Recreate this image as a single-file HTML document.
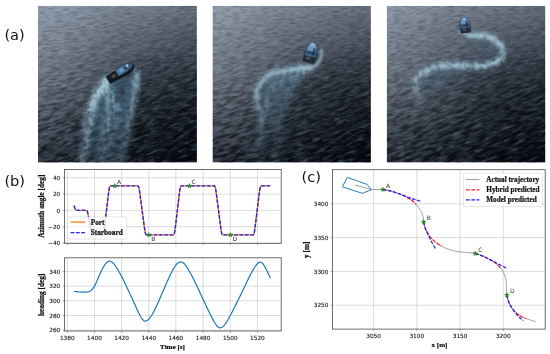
<!DOCTYPE html>
<html><head><meta charset="utf-8"><title>Figure</title>
<style>html,body{margin:0;padding:0;background:#fff}svg{display:block}</style></head>
<body>
<svg width="550" height="354" viewBox="0 0 550 354">
<defs>
<filter id="rip" x="0" y="0" width="100%" height="100%" color-interpolation-filters="sRGB">
  <feTurbulence type="fractalNoise" baseFrequency="0.13 0.6" numOctaves="2" seed="7"/>
  <feColorMatrix type="matrix" values="0 0 0 0 0.78  0 0 0 0 0.86  0 0 0 0 1  2.6 0 0 0 -1.1"/>
</filter>
<filter id="ripd" x="0" y="0" width="100%" height="100%" color-interpolation-filters="sRGB">
  <feTurbulence type="fractalNoise" baseFrequency="0.13 0.6" numOctaves="2" seed="31"/>
  <feColorMatrix type="matrix" values="0 0 0 0 0  0 0 0 0 0.02  0 0 0 0 0.04  2.6 0 0 0 -1.1"/>
</filter>
<filter id="wav" x="0" y="0" width="100%" height="100%" color-interpolation-filters="sRGB">
  <feTurbulence type="fractalNoise" baseFrequency="0.085 0.34" numOctaves="2" seed="11"/>
  <feColorMatrix type="matrix" values="0 0 0 0 0.45  0 0 0 0 0.53  0 0 0 0 0.62  4 0 0 0 -2.15"/>
</filter>
<filter id="wavd" x="0" y="0" width="100%" height="100%" color-interpolation-filters="sRGB">
  <feTurbulence type="fractalNoise" baseFrequency="0.085 0.34" numOctaves="2" seed="57"/>
  <feColorMatrix type="matrix" values="0 0 0 0 0  0 0 0 0 0.01  0 0 0 0 0.02  4 0 0 0 -1.6"/>
</filter>
<filter id="foam" x="-20%" y="-20%" width="140%" height="140%" color-interpolation-filters="sRGB">
  <feGaussianBlur in="SourceGraphic" stdDeviation="2" result="bl"/>
  <feTurbulence type="fractalNoise" baseFrequency="0.2 0.17" numOctaves="2" seed="3" result="tb"/>
  <feColorMatrix in="tb" type="matrix" values="0 0 0 0 1  0 0 0 0 1  0 0 0 0 1  4 0 0 0 -1.45" result="tx"/>
  <feComposite in="bl" in2="tx" operator="arithmetic" k1="0.9" k2="0.3" k3="0" k4="0"/>
</filter>
<filter id="b0" x="-10%" y="-10%" width="120%" height="120%"><feGaussianBlur stdDeviation="0.45"/></filter>
<filter id="b1" x="-30%" y="-30%" width="160%" height="160%"><feGaussianBlur stdDeviation="0.9"/></filter>
<filter id="b2" x="-30%" y="-30%" width="160%" height="160%"><feGaussianBlur stdDeviation="2.2"/></filter>
<filter id="b4" x="-30%" y="-30%" width="160%" height="160%"><feGaussianBlur stdDeviation="4"/></filter>
<linearGradient id="g0" gradientUnits="userSpaceOnUse" x1="38" y1="5.8" x2="140.5" y2="195.0">
<stop offset="0" stop-color="rgb(142,153,168)"/><stop offset="1" stop-color="rgb(0,7,15)"/></linearGradient>
<radialGradient id="ol0" gradientUnits="userSpaceOnUse" cx="38" cy="66.2" r="87.4"><stop offset="0" stop-color="#aab4c0" stop-opacity="0.26"/><stop offset="1" stop-color="#aab4c0" stop-opacity="0"/></radialGradient>
<radialGradient id="od0" gradientUnits="userSpaceOnUse" cx="165.1" cy="113.9" r="66.7"><stop offset="0" stop-color="#05090e" stop-opacity="0.3"/><stop offset="1" stop-color="#05090e" stop-opacity="0"/></radialGradient>
<linearGradient id="ot0" gradientUnits="userSpaceOnUse" x1="0" y1="5.8" x2="0" y2="61.4"><stop offset="0" stop-color="#aab8cc" stop-opacity="0.16"/><stop offset="1" stop-color="#aab8cc" stop-opacity="0"/></linearGradient>
<clipPath id="c0"><rect x="38" y="5.8" width="158.9" height="156.79999999999998"/></clipPath>
<linearGradient id="na0" gradientUnits="userSpaceOnUse" x1="85.7" y1="5.8" x2="117.5" y2="162.6"><stop offset="0" stop-color="#fff" stop-opacity="0"/><stop offset="0.35" stop-color="#fff" stop-opacity="0.18"/><stop offset="1" stop-color="#fff" stop-opacity="1"/></linearGradient>
<mask id="m0"><rect x="38" y="5.8" width="158.9" height="156.79999999999998" fill="url(#na0)"/></mask>
<linearGradient id="nb0" gradientUnits="userSpaceOnUse" x1="0" y1="5.8" x2="0" y2="162.6"><stop offset="0" stop-color="#fff" stop-opacity="0.45"/><stop offset="0.5" stop-color="#fff" stop-opacity="0.6"/><stop offset="1" stop-color="#fff" stop-opacity="0.3"/></linearGradient>
<mask id="mb0"><rect x="38" y="5.8" width="158.9" height="156.79999999999998" fill="url(#nb0)"/></mask>
<linearGradient id="g1" gradientUnits="userSpaceOnUse" x1="212.5" y1="5.8" x2="314.7" y2="194.5">
<stop offset="0" stop-color="rgb(141,151,165)"/><stop offset="1" stop-color="rgb(0,7,15)"/></linearGradient>
<radialGradient id="ol1" gradientUnits="userSpaceOnUse" cx="212.5" cy="66.0" r="87.1"><stop offset="0" stop-color="#aab4c0" stop-opacity="0.26"/><stop offset="1" stop-color="#aab4c0" stop-opacity="0"/></radialGradient>
<radialGradient id="od1" gradientUnits="userSpaceOnUse" cx="339.2" cy="113.5" r="66.5"><stop offset="0" stop-color="#05090e" stop-opacity="0.3"/><stop offset="1" stop-color="#05090e" stop-opacity="0"/></radialGradient>
<linearGradient id="ot1" gradientUnits="userSpaceOnUse" x1="0" y1="5.8" x2="0" y2="61.2"><stop offset="0" stop-color="#aab8cc" stop-opacity="0.16"/><stop offset="1" stop-color="#aab8cc" stop-opacity="0"/></linearGradient>
<clipPath id="c1"><rect x="212.5" y="5.8" width="158.39999999999998" height="156.79999999999998"/></clipPath>
<linearGradient id="na1" gradientUnits="userSpaceOnUse" x1="260.0" y1="5.8" x2="291.7" y2="162.6"><stop offset="0" stop-color="#fff" stop-opacity="0"/><stop offset="0.35" stop-color="#fff" stop-opacity="0.18"/><stop offset="1" stop-color="#fff" stop-opacity="1"/></linearGradient>
<mask id="m1"><rect x="212.5" y="5.8" width="158.39999999999998" height="156.79999999999998" fill="url(#na1)"/></mask>
<linearGradient id="nb1" gradientUnits="userSpaceOnUse" x1="0" y1="5.8" x2="0" y2="162.6"><stop offset="0" stop-color="#fff" stop-opacity="0.45"/><stop offset="0.5" stop-color="#fff" stop-opacity="0.6"/><stop offset="1" stop-color="#fff" stop-opacity="0.3"/></linearGradient>
<mask id="mb1"><rect x="212.5" y="5.8" width="158.39999999999998" height="156.79999999999998" fill="url(#nb1)"/></mask>
<linearGradient id="g2" gradientUnits="userSpaceOnUse" x1="386.7" y1="5.8" x2="489.1" y2="194.8">
<stop offset="0" stop-color="rgb(133,143,157)"/><stop offset="1" stop-color="rgb(0,7,15)"/></linearGradient>
<radialGradient id="ol2" gradientUnits="userSpaceOnUse" cx="386.7" cy="66.1" r="87.3"><stop offset="0" stop-color="#aab4c0" stop-opacity="0.26"/><stop offset="1" stop-color="#aab4c0" stop-opacity="0"/></radialGradient>
<radialGradient id="od2" gradientUnits="userSpaceOnUse" cx="513.7" cy="113.7" r="66.7"><stop offset="0" stop-color="#05090e" stop-opacity="0.3"/><stop offset="1" stop-color="#05090e" stop-opacity="0"/></radialGradient>
<linearGradient id="ot2" gradientUnits="userSpaceOnUse" x1="0" y1="5.8" x2="0" y2="61.3"><stop offset="0" stop-color="#aab8cc" stop-opacity="0.16"/><stop offset="1" stop-color="#aab8cc" stop-opacity="0"/></linearGradient>
<clipPath id="c2"><rect x="386.7" y="5.8" width="158.7" height="156.79999999999998"/></clipPath>
<linearGradient id="na2" gradientUnits="userSpaceOnUse" x1="434.3" y1="5.8" x2="466.0" y2="162.6"><stop offset="0" stop-color="#fff" stop-opacity="0"/><stop offset="0.35" stop-color="#fff" stop-opacity="0.18"/><stop offset="1" stop-color="#fff" stop-opacity="1"/></linearGradient>
<mask id="m2"><rect x="386.7" y="5.8" width="158.7" height="156.79999999999998" fill="url(#na2)"/></mask>
<linearGradient id="nb2" gradientUnits="userSpaceOnUse" x1="0" y1="5.8" x2="0" y2="162.6"><stop offset="0" stop-color="#fff" stop-opacity="0.45"/><stop offset="0.5" stop-color="#fff" stop-opacity="0.6"/><stop offset="1" stop-color="#fff" stop-opacity="0.3"/></linearGradient>
<mask id="mb2"><rect x="386.7" y="5.8" width="158.7" height="156.79999999999998" fill="url(#nb2)"/></mask>
</defs>
<rect width="550" height="354" fill="#fff"/>
<g clip-path="url(#c0)">
<rect x="38" y="5.8" width="158.9" height="156.79999999999998" fill="url(#g0)"/>
<rect x="38" y="5.8" width="158.9" height="156.79999999999998" fill="url(#ol0)"/>
<rect x="38" y="5.8" width="158.9" height="156.79999999999998" fill="url(#ot0)"/>
<rect x="38" y="5.8" width="158.9" height="156.79999999999998" fill="url(#od0)"/>
<g mask="url(#mb0)"><g transform="rotate(-5 117.45 84.2)"><rect x="-22" y="-54.2" width="278.9" height="276.79999999999995" filter="url(#rip)" opacity="0.28"/><rect x="-22" y="-54.2" width="278.9" height="276.79999999999995" filter="url(#ripd)" opacity="0.45"/></g></g>
<g mask="url(#m0)"><g transform="rotate(-20 117.45 84.2)"><rect x="-22" y="-54.2" width="278.9" height="276.79999999999995" filter="url(#wavd)" opacity="0.75"/><rect x="-22" y="-54.2" width="278.9" height="276.79999999999995" filter="url(#wav)" opacity="0.42"/></g></g>
<linearGradient id="wf0" gradientUnits="userSpaceOnUse" x1="0" y1="80" x2="0" y2="163"><stop offset="0" stop-color="#fff" stop-opacity="1"/><stop offset="0.3" stop-color="#fff" stop-opacity="0.8"/><stop offset="0.6" stop-color="#fff" stop-opacity="0.55"/><stop offset="1" stop-color="#fff" stop-opacity="0.35"/></linearGradient><mask id="wm0"><rect x="38" y="5" width="160" height="159" fill="url(#wf0)"/></mask>
<g fill="none" stroke-linecap="round" stroke-linejoin="round" mask="url(#wm0)">
<path d="M108,80 C98,90 90,108 86,130 L78,166 L122,166 C127,140 134,110 138,72 L126,80 Z" fill="#3f6b86" stroke="none" opacity="0.62" filter="url(#b4)"/>
<path d="M112,88 C106,100 100,118 97,140 L94,166 L114,166 C118,140 124,112 128,88 Z" fill="#7aa6bd" stroke="none" opacity="0.5" filter="url(#foam)"/>
<path d="M108,81 C101,87 96,96 93,104 C90,113 88,126 84,150 L81,165" stroke="#7aa6bd" stroke-width="8" opacity="0.45" filter="url(#b2)"/>
<path d="M108,81 C101,87 96,96 93,104 C90,113 88,126 84,150 L81,165" stroke="#a9cbd9" stroke-width="9.5" opacity="0.8" filter="url(#foam)"/>
<path d="M137,72 C136,88 134,100 132,108 C129,122 125,136 120,163" stroke="#7aa6bd" stroke-width="6" opacity="0.25" filter="url(#b2)"/>
<path d="M137,72 C136,88 134,100 132,108 C129,122 125,136 120,163" stroke="#a9cbd9" stroke-width="7" opacity="0.5" filter="url(#foam)"/>
<path d="M105,88 C109,96 111,102 112,110 C112,125 106,140 101,163" stroke="#a9cbd9" stroke-width="8" opacity="0.5" filter="url(#foam)"/>
<path d="M107,82 C101,88 96,97 92.5,110" stroke="#a9cbd9" stroke-width="4" opacity="0.7" filter="url(#b1)"/>
<ellipse cx="121" cy="94" rx="5.5" ry="9" fill="#121c26" opacity="0.5" filter="url(#b2)" stroke="none"/>
</g>
<path d="M104,80 C108,76 114,72 118,71" stroke="#a9cbd9" stroke-width="3" opacity="0.5" fill="none" filter="url(#b1)"/>
<g transform="translate(120.5,71.8) rotate(-30.6) scale(0.9,1.035)" filter="url(#b0)"><path d="M-17,-3.4 L6,-4.4 L13,-3 L17.5,0.4 L14,4.6 L6,6 L-17,5 Z" fill="#0f151b"/><path d="M-5,-4.2 L6,-4.4 L12.5,-3 L16.5,0 L12.5,2.2 L6,3.2 L-5,3 Z" fill="#3a5878"/><path d="M-16,-3 L-5,-3.4 L-5,3 L-16,3.4 Z" fill="#141b22"/><rect x="-11" y="-1.2" width="4" height="2.6" fill="#5a5046"/><rect x="-3.5" y="-3.6" width="10" height="5.6" fill="#4e7499"/><rect x="-1" y="-2.8" width="5" height="3.6" fill="#6f95b8"/><rect x="5" y="-2.4" width="3.2" height="3.2" fill="#2f4a66"/><rect x="8.5" y="-3" width="2.6" height="2.2" fill="#b9cddc"/></g>
</g>
<g clip-path="url(#c1)">
<rect x="212.5" y="5.8" width="158.39999999999998" height="156.79999999999998" fill="url(#g1)"/>
<rect x="212.5" y="5.8" width="158.39999999999998" height="156.79999999999998" fill="url(#ol1)"/>
<rect x="212.5" y="5.8" width="158.39999999999998" height="156.79999999999998" fill="url(#ot1)"/>
<rect x="212.5" y="5.8" width="158.39999999999998" height="156.79999999999998" fill="url(#od1)"/>
<g mask="url(#mb1)"><g transform="rotate(-5 291.7 84.2)"><rect x="152.5" y="-54.2" width="278.4" height="276.79999999999995" filter="url(#rip)" opacity="0.28"/><rect x="152.5" y="-54.2" width="278.4" height="276.79999999999995" filter="url(#ripd)" opacity="0.45"/></g></g>
<g mask="url(#m1)"><g transform="rotate(-20 291.7 84.2)"><rect x="152.5" y="-54.2" width="278.4" height="276.79999999999995" filter="url(#wavd)" opacity="0.75"/><rect x="152.5" y="-54.2" width="278.4" height="276.79999999999995" filter="url(#wav)" opacity="0.42"/></g></g>
<linearGradient id="wf1" gradientUnits="userSpaceOnUse" x1="0" y1="60" x2="0" y2="163"><stop offset="0" stop-color="#fff" stop-opacity="1"/><stop offset="0.45" stop-color="#fff" stop-opacity="0.6"/><stop offset="0.7" stop-color="#fff" stop-opacity="0.3"/><stop offset="1" stop-color="#fff" stop-opacity="0.1"/></linearGradient><mask id="wm1"><rect x="212" y="5" width="160" height="159" fill="url(#wf1)"/></mask>
<g fill="none" stroke-linecap="round" stroke-linejoin="round" mask="url(#wm1)">
<path d="M312,66 C298,78 286,96 284,120 C283,140 282,150 280,166 L248,166 C254,140 262,125 258,108 C252,92 258,78 282,68 Z" fill="#3f6b86" stroke="none" opacity="0.5" filter="url(#b4)"/>
<path d="M312,67.5 C302,68.5 290,68.5 273,73 C266,76 260,82 256.5,91 C255,98 257,106 261,116 C264,128 258,148 252,164" stroke="#7aa6bd" stroke-width="5" opacity="0.35" filter="url(#b2)"/>
<path d="M312,67.5 C302,68.5 290,68.5 273,73 C266,76 260,82 256.5,91 C255,98 257,106 261,116 C264,128 258,148 252,164" stroke="#a9cbd9" stroke-width="6" opacity="0.6" filter="url(#foam)"/>
<path d="M306,73 C294,82 284,95 280,112 C278,130 279,150 276,164" stroke="#a9cbd9" stroke-width="9" opacity="0.22" filter="url(#foam)"/>
<path d="M300,72 C288,76 274,84 268,96 C264,106 268,120 268,135" stroke="#a9cbd9" stroke-width="9" opacity="0.25" filter="url(#foam)"/>
<path d="M310,67.5 C298,68.5 288,69 273,73.5 C266,76.5 260.5,82 257.5,91 C256,97 257,103 259,108" stroke="#a9cbd9" stroke-width="2.6" opacity="0.7" filter="url(#b1)"/>
<path d="M321.5,50 C322,58 319,65 311,68 C306,69.5 302,68 299,66" stroke="#a9cbd9" stroke-width="3.4" opacity="0.6" filter="url(#b1)"/>
</g>
<g transform="translate(311,52.5) rotate(14)" filter="url(#b0)"><path d="M-6.5,1.575 L-5.5249999999999995,-5.775 L-2.275,-10.5 L2.275,-10.5 L5.5249999999999995,-5.775 L6.5,1.575 L6.175,10.5 L-6.175,10.5 Z" fill="#1f2c3a"/><path d="M-5.33,3.675 L-5.2,-5.25 L-1.95,-9.975 L1.95,-9.975 L5.2,-5.25 L5.33,3.675 Z" fill="#4c75a0"/><rect x="-3.90" y="-7.35" width="7.80" height="5.78" fill="#6f96bb"/><rect x="-2.27" y="-9.66" width="4.55" height="3.15" fill="#8fb0cc"/><rect x="-4.55" y="-1.05" width="9.10" height="3.15" fill="#2c435c"/><rect x="1.62" y="-4.73" width="1.95" height="7.35" fill="#1d2a38"/><rect x="-3.25" y="4.73" width="3.90" height="2.62" fill="#5b5348"/></g>
</g>
<g clip-path="url(#c2)">
<rect x="386.7" y="5.8" width="158.7" height="156.79999999999998" fill="url(#g2)"/>
<rect x="386.7" y="5.8" width="158.7" height="156.79999999999998" fill="url(#ol2)"/>
<rect x="386.7" y="5.8" width="158.7" height="156.79999999999998" fill="url(#ot2)"/>
<rect x="386.7" y="5.8" width="158.7" height="156.79999999999998" fill="url(#od2)"/>
<g mask="url(#mb2)"><g transform="rotate(-5 466.04999999999995 84.2)"><rect x="326.7" y="-54.2" width="278.7" height="276.79999999999995" filter="url(#rip)" opacity="0.28"/><rect x="326.7" y="-54.2" width="278.7" height="276.79999999999995" filter="url(#ripd)" opacity="0.45"/></g></g>
<g mask="url(#m2)"><g transform="rotate(-20 466.04999999999995 84.2)"><rect x="326.7" y="-54.2" width="278.7" height="276.79999999999995" filter="url(#wavd)" opacity="0.75"/><rect x="326.7" y="-54.2" width="278.7" height="276.79999999999995" filter="url(#wav)" opacity="0.42"/></g></g>
<linearGradient id="wf2" gradientUnits="userSpaceOnUse" x1="0" y1="70" x2="0" y2="105"><stop offset="0" stop-color="#fff" stop-opacity="1"/><stop offset="1" stop-color="#fff" stop-opacity="0.15"/></linearGradient><mask id="wm2"><rect x="386" y="6" width="162" height="158" fill="url(#wf2)"/></mask>
<g fill="none" stroke-linecap="round" stroke-linejoin="round" mask="url(#wm2)">
<path d="M470,36 C486,36 500,44 500,53 C500,62 470,64 450,64 C430,66 420,72 416,82 C414,90 418,96 421,102 L440,100 C436,90 440,80 456,74 C470,70 486,72 494,62 Z" fill="#3f6b86" stroke="none" opacity="0.3" filter="url(#b4)"/>
<path d="M470,35.5 C478,34 488,35 494,39 C500,43 504,48 503,54 C502,60 496,64 486,65.5 C476,67 464,65 453,65 C444,65 436,66 429,69.5 C422,73 418,76 416,80 C414,85 415,92 421,102" stroke="#7aa6bd" stroke-width="4.5" opacity="0.35" filter="url(#b2)"/>
<path d="M459,31 C462,35 470,35.5 482,37" stroke="#a9cbd9" stroke-width="2.6" opacity="0.6" filter="url(#b1)"/>
<path d="M470,35.5 C478,34 488,35 494,39 C500,43 504,48 503,54 C502,60 496,64 486,65.5 C476,67 464,65 453,65 C444,65 436,66 429,69.5 C422,73 418,76 416,80 C414,85 415,92 421,102" stroke="#a9cbd9" stroke-width="6" opacity="0.7" filter="url(#foam)"/>
<path d="M472,35.5 C478,34 488,35 494,39 C500,43 504,48 503,54 C502,60 496,64 486,65.5 C476,67 464,65 453,65 C444,65 436,66 429,69.5 C422,73 418,76 416,80" stroke="#a9cbd9" stroke-width="2.2" opacity="0.5" filter="url(#b1)"/>
</g>
<g transform="translate(464.8,25) rotate(-8)" filter="url(#b0)"><path d="M-5.5,1.2 L-4.675,-4.4 L-1.9249999999999998,-8.0 L1.9249999999999998,-8.0 L4.675,-4.4 L5.5,1.2 L5.225,8.0 L-5.225,8.0 Z" fill="#1f2c3a"/><path d="M-4.51,2.8 L-4.4,-4.0 L-1.65,-7.6 L1.65,-7.6 L4.4,-4.0 L4.51,2.8 Z" fill="#4c75a0"/><rect x="-3.30" y="-5.60" width="6.60" height="4.40" fill="#6f96bb"/><rect x="-1.92" y="-7.36" width="3.85" height="2.40" fill="#8fb0cc"/><rect x="-3.85" y="-0.80" width="7.70" height="2.40" fill="#2c435c"/><rect x="1.38" y="-3.60" width="1.65" height="5.60" fill="#1d2a38"/><rect x="-2.75" y="3.60" width="3.30" height="2.00" fill="#5b5348"/></g>
</g>
<text x="4.4" y="39.6" font-family='"DejaVu Sans", "Liberation Sans", sans-serif' font-size="14.6" fill="#111">(a)</text>
<text x="4.4" y="186.2" font-family='"DejaVu Sans", "Liberation Sans", sans-serif' font-size="14.6" fill="#111">(b)</text>
<text x="301.5" y="182" font-family='"DejaVu Sans", "Liberation Sans", sans-serif' font-size="14.6" fill="#111">(c)</text>
<g>
<rect x="64.5" y="169.4" width="216.7" height="73.9" fill="#fff"/>
<line x1="67.3" y1="169.4" x2="67.3" y2="243.3" stroke="#b8b8b8" stroke-width="0.5"/>
<line x1="67.3" y1="243.3" x2="67.3" y2="245.10000000000002" stroke="#4a4a4a" stroke-width="0.5"/>
<line x1="94.5" y1="169.4" x2="94.5" y2="243.3" stroke="#b8b8b8" stroke-width="0.5"/>
<line x1="94.5" y1="243.3" x2="94.5" y2="245.10000000000002" stroke="#4a4a4a" stroke-width="0.5"/>
<line x1="121.6" y1="169.4" x2="121.6" y2="243.3" stroke="#b8b8b8" stroke-width="0.5"/>
<line x1="121.6" y1="243.3" x2="121.6" y2="245.10000000000002" stroke="#4a4a4a" stroke-width="0.5"/>
<line x1="148.8" y1="169.4" x2="148.8" y2="243.3" stroke="#b8b8b8" stroke-width="0.5"/>
<line x1="148.8" y1="243.3" x2="148.8" y2="245.10000000000002" stroke="#4a4a4a" stroke-width="0.5"/>
<line x1="175.9" y1="169.4" x2="175.9" y2="243.3" stroke="#b8b8b8" stroke-width="0.5"/>
<line x1="175.9" y1="243.3" x2="175.9" y2="245.10000000000002" stroke="#4a4a4a" stroke-width="0.5"/>
<line x1="203.1" y1="169.4" x2="203.1" y2="243.3" stroke="#b8b8b8" stroke-width="0.5"/>
<line x1="203.1" y1="243.3" x2="203.1" y2="245.10000000000002" stroke="#4a4a4a" stroke-width="0.5"/>
<line x1="230.3" y1="169.4" x2="230.3" y2="243.3" stroke="#b8b8b8" stroke-width="0.5"/>
<line x1="230.3" y1="243.3" x2="230.3" y2="245.10000000000002" stroke="#4a4a4a" stroke-width="0.5"/>
<line x1="257.4" y1="169.4" x2="257.4" y2="243.3" stroke="#b8b8b8" stroke-width="0.5"/>
<line x1="257.4" y1="243.3" x2="257.4" y2="245.10000000000002" stroke="#4a4a4a" stroke-width="0.5"/>
<line x1="64.5" y1="243.1" x2="281.2" y2="243.1" stroke="#b8b8b8" stroke-width="0.5"/>
<line x1="62.7" y1="243.1" x2="64.5" y2="243.1" stroke="#4a4a4a" stroke-width="0.5"/>
<text x="60.3" y="245.3" text-anchor="end" font-family='"DejaVu Sans", "Liberation Sans", sans-serif' font-size="5.8" fill="#1a1a1a" stroke="#1a1a1a" stroke-width="0.12">−40</text>
<line x1="64.5" y1="226.7" x2="281.2" y2="226.7" stroke="#b8b8b8" stroke-width="0.5"/>
<line x1="62.7" y1="226.7" x2="64.5" y2="226.7" stroke="#4a4a4a" stroke-width="0.5"/>
<text x="60.3" y="228.9" text-anchor="end" font-family='"DejaVu Sans", "Liberation Sans", sans-serif' font-size="5.8" fill="#1a1a1a" stroke="#1a1a1a" stroke-width="0.12">−20</text>
<line x1="64.5" y1="210.4" x2="281.2" y2="210.4" stroke="#b8b8b8" stroke-width="0.5"/>
<line x1="62.7" y1="210.4" x2="64.5" y2="210.4" stroke="#4a4a4a" stroke-width="0.5"/>
<text x="60.3" y="212.6" text-anchor="end" font-family='"DejaVu Sans", "Liberation Sans", sans-serif' font-size="5.8" fill="#1a1a1a" stroke="#1a1a1a" stroke-width="0.12">0</text>
<line x1="64.5" y1="194.1" x2="281.2" y2="194.1" stroke="#b8b8b8" stroke-width="0.5"/>
<line x1="62.7" y1="194.1" x2="64.5" y2="194.1" stroke="#4a4a4a" stroke-width="0.5"/>
<text x="60.3" y="196.3" text-anchor="end" font-family='"DejaVu Sans", "Liberation Sans", sans-serif' font-size="5.8" fill="#1a1a1a" stroke="#1a1a1a" stroke-width="0.12">20</text>
<line x1="64.5" y1="177.7" x2="281.2" y2="177.7" stroke="#b8b8b8" stroke-width="0.5"/>
<line x1="62.7" y1="177.7" x2="64.5" y2="177.7" stroke="#4a4a4a" stroke-width="0.5"/>
<text x="60.3" y="179.9" text-anchor="end" font-family='"DejaVu Sans", "Liberation Sans", sans-serif' font-size="5.8" fill="#1a1a1a" stroke="#1a1a1a" stroke-width="0.12">40</text>
<polyline points="74.09,205.58 74.43,206.84 74.77,208.10 75.11,208.88 75.45,209.35 75.79,209.59 76.13,209.90 76.47,210.10 76.81,210.23 77.15,210.32 77.48,210.37 77.82,210.39 78.16,210.40 78.50,210.40 78.84,210.40 79.18,210.40 79.52,210.40 79.86,210.40 80.20,210.40 80.54,210.40 80.88,210.40 81.22,210.40 81.56,210.40 81.90,210.40 82.24,210.40 82.58,210.40 82.92,210.40 83.26,210.40 83.60,210.40 83.94,210.40 84.28,210.40 84.61,210.40 84.95,210.40 85.29,210.40 85.63,210.40 85.97,210.40 86.31,210.42 86.65,210.54 86.99,210.86 87.33,211.53 87.67,212.61 88.01,214.08 88.35,215.81 88.69,217.68 89.03,219.59 89.37,221.50 89.71,223.42 90.05,225.33 90.39,227.24 90.73,229.12 91.06,230.89 91.40,232.42 91.74,233.60 92.08,234.33 92.42,234.72 92.76,234.87 93.10,234.90 93.44,234.90 93.78,234.90 94.12,234.90 94.46,234.90 94.80,234.90 95.14,234.90 95.48,234.90 95.82,234.90 96.16,234.90 96.50,234.90 96.84,234.90 97.18,234.90 97.52,234.90 97.86,234.90 98.19,234.90 98.53,234.90 98.87,234.90 99.21,234.90 99.55,234.90 99.89,234.90 100.23,234.90 100.57,234.90 100.91,234.90 101.25,234.90 101.59,234.90 101.93,234.90 102.27,234.90 102.61,234.83 102.95,234.55 103.29,233.90 103.63,232.65 103.97,230.80 104.31,228.42 104.65,225.75 104.98,222.94 105.32,220.09 105.66,217.24 106.00,214.39 106.34,211.54 106.68,208.69 107.02,205.84 107.36,202.99 107.70,200.14 108.04,197.29 108.38,194.50 108.72,191.86 109.06,189.59 109.40,187.84 109.74,186.74 110.08,186.17 110.42,185.95 110.76,185.90 111.10,185.90 111.44,185.90 111.77,185.90 112.11,185.90 112.45,185.90 112.79,185.90 113.13,185.90 113.47,185.90 113.81,185.90 114.15,185.90 114.49,185.90 114.83,185.90 115.17,185.90 115.51,185.90 115.85,185.90 116.19,185.90 116.53,185.90 116.87,185.90 117.21,185.90 117.55,185.90 117.89,185.90 118.22,185.90 118.56,185.90 118.90,185.90 119.24,185.90 119.58,185.90 119.92,185.90 120.26,185.90 120.60,185.90 120.94,185.90 121.28,185.90 121.62,185.90 121.96,185.90 122.30,185.90 122.64,185.90 122.98,185.90 123.32,185.90 123.66,185.90 124.00,185.90 124.34,185.90 124.68,185.90 125.02,185.90 125.35,185.90 125.69,185.90 126.03,185.90 126.37,185.90 126.71,185.90 127.05,185.90 127.39,185.90 127.73,185.90 128.07,185.90 128.41,185.90 128.75,185.90 129.09,185.90 129.43,185.90 129.77,185.90 130.11,185.90 130.45,185.90 130.79,185.90 131.13,185.90 131.47,185.90 131.81,185.90 132.14,185.90 132.48,185.90 132.82,185.90 133.16,185.90 133.50,185.90 133.84,185.90 134.18,185.90 134.52,185.90 134.86,185.90 135.20,185.90 135.54,185.90 135.88,185.90 136.22,185.90 136.56,185.90 136.90,185.90 137.24,185.90 137.58,185.90 137.92,185.97 138.26,186.22 138.59,186.80 138.93,187.92 139.27,189.57 139.61,191.70 139.95,194.09 140.29,196.62 140.63,199.17 140.97,201.72 141.31,204.27 141.65,206.83 141.99,209.38 142.33,211.93 142.67,214.48 143.01,217.04 143.35,219.59 143.69,222.14 144.03,224.69 144.37,227.20 144.71,229.56 145.05,231.59 145.38,233.16 145.72,234.15 146.06,234.66 146.40,234.85 146.74,234.90 147.08,234.90 147.42,234.90 147.76,234.90 148.10,234.90 148.44,234.90 148.78,234.90 149.12,234.90 149.46,234.90 149.80,234.90 150.14,234.90 150.48,234.90 150.82,234.90 151.16,234.90 151.50,234.90 151.84,234.90 152.18,234.90 152.51,234.90 152.85,234.90 153.19,234.90 153.53,234.90 153.87,234.90 154.21,234.90 154.55,234.90 154.89,234.90 155.23,234.90 155.57,234.90 155.91,234.90 156.25,234.90 156.59,234.90 156.93,234.90 157.27,234.90 157.61,234.90 157.95,234.90 158.29,234.90 158.63,234.90 158.97,234.90 159.30,234.90 159.64,234.90 159.98,234.90 160.32,234.90 160.66,234.90 161.00,234.90 161.34,234.90 161.68,234.90 162.02,234.90 162.36,234.90 162.70,234.90 163.04,234.90 163.38,234.90 163.72,234.90 164.06,234.90 164.40,234.90 164.74,234.90 165.08,234.90 165.42,234.90 165.75,234.90 166.09,234.90 166.43,234.90 166.77,234.90 167.11,234.90 167.45,234.90 167.79,234.90 168.13,234.90 168.47,234.90 168.81,234.90 169.15,234.90 169.49,234.90 169.83,234.90 170.17,234.90 170.51,234.90 170.85,234.90 171.19,234.90 171.53,234.90 171.87,234.90 172.21,234.90 172.55,234.90 172.88,234.90 173.22,234.89 173.56,234.79 173.90,234.46 174.24,233.69 174.58,232.34 174.92,230.35 175.26,227.91 175.60,225.19 175.94,222.37 176.28,219.52 176.62,216.67 176.96,213.82 177.30,210.97 177.64,208.12 177.98,205.27 178.32,202.42 178.66,199.57 179.00,196.73 179.34,193.95 179.67,191.38 180.01,189.18 180.35,187.58 180.69,186.58 181.03,186.11 181.37,185.93 181.71,185.90 182.05,185.90 182.39,185.90 182.73,185.90 183.07,185.90 183.41,185.90 183.75,185.90 184.09,185.90 184.43,185.90 184.77,185.90 185.11,185.90 185.45,185.90 185.79,185.90 186.12,185.90 186.46,185.90 186.80,185.90 187.14,185.90 187.48,185.90 187.82,185.90 188.16,185.90 188.50,185.90 188.84,185.90 189.18,185.90 189.52,185.90 189.86,185.90 190.20,185.90 190.54,185.90 190.88,185.90 191.22,185.90 191.56,185.90 191.90,185.90 192.24,185.90 192.58,185.90 192.92,185.90 193.25,185.90 193.59,185.90 193.93,185.90 194.27,185.90 194.61,185.90 194.95,185.90 195.29,185.90 195.63,185.90 195.97,185.90 196.31,185.90 196.65,185.90 196.99,185.90 197.33,185.90 197.67,185.90 198.01,185.90 198.35,185.90 198.69,185.90 199.03,185.90 199.37,185.90 199.70,185.90 200.04,185.90 200.38,185.90 200.72,185.90 201.06,185.90 201.40,185.90 201.74,185.90 202.08,185.90 202.42,185.90 202.76,185.90 203.10,185.90 203.44,185.90 203.78,185.90 204.12,185.90 204.46,185.90 204.80,185.90 205.14,185.90 205.48,185.90 205.82,185.90 206.16,185.90 206.50,185.90 206.83,185.90 207.17,185.90 207.51,185.90 207.85,185.90 208.19,185.90 208.53,185.90 208.87,185.90 209.21,185.90 209.55,185.90 209.89,185.90 210.23,185.90 210.57,185.90 210.91,185.90 211.25,185.90 211.59,185.90 211.93,185.90 212.27,185.90 212.61,185.90 212.95,185.90 213.29,185.90 213.62,185.90 213.96,185.90 214.30,185.95 214.64,186.14 214.98,186.67 215.32,187.68 215.66,189.28 216.00,191.36 216.34,193.77 216.68,196.32 217.02,198.93 217.36,201.54 217.70,204.14 218.04,206.75 218.38,209.36 218.72,211.96 219.06,214.57 219.40,217.18 219.74,219.78 220.07,222.39 220.41,224.99 220.75,227.53 221.09,229.89 221.43,231.90 221.77,233.36 222.11,234.28 222.45,234.71 222.79,234.87 223.13,234.90 223.47,234.90 223.81,234.90 224.15,234.90 224.49,234.90 224.83,234.90 225.17,234.90 225.51,234.90 225.85,234.90 226.19,234.90 226.53,234.90 226.87,234.90 227.20,234.90 227.54,234.90 227.88,234.90 228.22,234.90 228.56,234.90 228.90,234.90 229.24,234.90 229.58,234.90 229.92,234.90 230.26,234.90 230.60,234.90 230.94,234.90 231.28,234.90 231.62,234.90 231.96,234.90 232.30,234.90 232.64,234.90 232.98,234.90 233.32,234.90 233.66,234.90 233.99,234.90 234.33,234.90 234.67,234.90 235.01,234.90 235.35,234.90 235.69,234.90 236.03,234.90 236.37,234.90 236.71,234.90 237.05,234.90 237.39,234.90 237.73,234.90 238.07,234.90 238.41,234.90 238.75,234.90 239.09,234.90 239.43,234.90 239.77,234.90 240.11,234.90 240.44,234.90 240.78,234.90 241.12,234.90 241.46,234.90 241.80,234.90 242.14,234.90 242.48,234.90 242.82,234.90 243.16,234.90 243.50,234.90 243.84,234.90 244.18,234.90 244.52,234.90 244.86,234.90 245.20,234.90 245.54,234.90 245.88,234.90 246.22,234.90 246.56,234.90 246.90,234.90 247.24,234.90 247.57,234.90 247.91,234.90 248.25,234.90 248.59,234.90 248.93,234.90 249.27,234.90 249.61,234.90 249.95,234.90 250.29,234.90 250.63,234.90 250.97,234.90 251.31,234.90 251.65,234.90 251.99,234.90 252.33,234.90 252.67,234.90 253.01,234.88 253.35,234.75 253.69,234.35 254.03,233.51 254.36,232.04 254.70,230.02 255.04,227.55 255.38,224.87 255.72,222.09 256.06,219.31 256.40,216.53 256.74,213.74 257.08,210.96 257.42,208.17 257.76,205.39 258.10,202.60 258.44,199.82 258.78,197.04 259.12,194.30 259.46,191.73 259.80,189.51 260.14,187.80 260.48,186.72 260.81,186.16 261.15,185.95 261.49,185.90 261.83,185.90 262.17,185.90 262.51,185.90 262.85,185.90 263.19,185.90 263.53,185.90 263.87,185.90 264.21,185.90 264.55,185.90 264.89,185.90 265.23,185.90 265.57,185.90 265.91,185.90 266.25,185.90 266.59,185.90 266.93,185.90 267.27,185.90 267.61,185.90 267.94,185.90 268.28,185.90 268.62,185.90 268.96,185.90 269.30,185.90 269.64,185.90 269.98,185.90 270.32,185.90" fill="none" stroke="#ff7f0e" stroke-width="1.35" stroke-linejoin="round"/>
<polyline points="74.09,205.58 74.43,206.84 74.77,208.10 75.11,208.88 75.45,209.35 75.79,209.59 76.13,209.90 76.47,210.10 76.81,210.23 77.15,210.32 77.48,210.37 77.82,210.39 78.16,210.40 78.50,210.40 78.84,210.40 79.18,210.40 79.52,210.40 79.86,210.40 80.20,210.40 80.54,210.40 80.88,210.40 81.22,210.40 81.56,210.40 81.90,210.40 82.24,210.40 82.58,210.40 82.92,210.40 83.26,210.40 83.60,210.40 83.94,210.40 84.28,210.40 84.61,210.40 84.95,210.40 85.29,210.40 85.63,210.40 85.97,210.40 86.31,210.42 86.65,210.54 86.99,210.86 87.33,211.53 87.67,212.61 88.01,214.08 88.35,215.81 88.69,217.68 89.03,219.59 89.37,221.50 89.71,223.42 90.05,225.33 90.39,227.24 90.73,229.12 91.06,230.89 91.40,232.42 91.74,233.60 92.08,234.33 92.42,234.72 92.76,234.87 93.10,234.90 93.44,234.90 93.78,234.90 94.12,234.90 94.46,234.90 94.80,234.90 95.14,234.90 95.48,234.90 95.82,234.90 96.16,234.90 96.50,234.90 96.84,234.90 97.18,234.90 97.52,234.90 97.86,234.90 98.19,234.90 98.53,234.90 98.87,234.90 99.21,234.90 99.55,234.90 99.89,234.90 100.23,234.90 100.57,234.90 100.91,234.90 101.25,234.90 101.59,234.90 101.93,234.90 102.27,234.90 102.61,234.83 102.95,234.55 103.29,233.90 103.63,232.65 103.97,230.80 104.31,228.42 104.65,225.75 104.98,222.94 105.32,220.09 105.66,217.24 106.00,214.39 106.34,211.54 106.68,208.69 107.02,205.84 107.36,202.99 107.70,200.14 108.04,197.29 108.38,194.50 108.72,191.86 109.06,189.59 109.40,187.84 109.74,186.74 110.08,186.17 110.42,185.95 110.76,185.90 111.10,185.90 111.44,185.90 111.77,185.90 112.11,185.90 112.45,185.90 112.79,185.90 113.13,185.90 113.47,185.90 113.81,185.90 114.15,185.90 114.49,185.90 114.83,185.90 115.17,185.90 115.51,185.90 115.85,185.90 116.19,185.90 116.53,185.90 116.87,185.90 117.21,185.90 117.55,185.90 117.89,185.90 118.22,185.90 118.56,185.90 118.90,185.90 119.24,185.90 119.58,185.90 119.92,185.90 120.26,185.90 120.60,185.90 120.94,185.90 121.28,185.90 121.62,185.90 121.96,185.90 122.30,185.90 122.64,185.90 122.98,185.90 123.32,185.90 123.66,185.90 124.00,185.90 124.34,185.90 124.68,185.90 125.02,185.90 125.35,185.90 125.69,185.90 126.03,185.90 126.37,185.90 126.71,185.90 127.05,185.90 127.39,185.90 127.73,185.90 128.07,185.90 128.41,185.90 128.75,185.90 129.09,185.90 129.43,185.90 129.77,185.90 130.11,185.90 130.45,185.90 130.79,185.90 131.13,185.90 131.47,185.90 131.81,185.90 132.14,185.90 132.48,185.90 132.82,185.90 133.16,185.90 133.50,185.90 133.84,185.90 134.18,185.90 134.52,185.90 134.86,185.90 135.20,185.90 135.54,185.90 135.88,185.90 136.22,185.90 136.56,185.90 136.90,185.90 137.24,185.90 137.58,185.90 137.92,185.97 138.26,186.22 138.59,186.80 138.93,187.92 139.27,189.57 139.61,191.70 139.95,194.09 140.29,196.62 140.63,199.17 140.97,201.72 141.31,204.27 141.65,206.83 141.99,209.38 142.33,211.93 142.67,214.48 143.01,217.04 143.35,219.59 143.69,222.14 144.03,224.69 144.37,227.20 144.71,229.56 145.05,231.59 145.38,233.16 145.72,234.15 146.06,234.66 146.40,234.85 146.74,234.90 147.08,234.90 147.42,234.90 147.76,234.90 148.10,234.90 148.44,234.90 148.78,234.90 149.12,234.90 149.46,234.90 149.80,234.90 150.14,234.90 150.48,234.90 150.82,234.90 151.16,234.90 151.50,234.90 151.84,234.90 152.18,234.90 152.51,234.90 152.85,234.90 153.19,234.90 153.53,234.90 153.87,234.90 154.21,234.90 154.55,234.90 154.89,234.90 155.23,234.90 155.57,234.90 155.91,234.90 156.25,234.90 156.59,234.90 156.93,234.90 157.27,234.90 157.61,234.90 157.95,234.90 158.29,234.90 158.63,234.90 158.97,234.90 159.30,234.90 159.64,234.90 159.98,234.90 160.32,234.90 160.66,234.90 161.00,234.90 161.34,234.90 161.68,234.90 162.02,234.90 162.36,234.90 162.70,234.90 163.04,234.90 163.38,234.90 163.72,234.90 164.06,234.90 164.40,234.90 164.74,234.90 165.08,234.90 165.42,234.90 165.75,234.90 166.09,234.90 166.43,234.90 166.77,234.90 167.11,234.90 167.45,234.90 167.79,234.90 168.13,234.90 168.47,234.90 168.81,234.90 169.15,234.90 169.49,234.90 169.83,234.90 170.17,234.90 170.51,234.90 170.85,234.90 171.19,234.90 171.53,234.90 171.87,234.90 172.21,234.90 172.55,234.90 172.88,234.90 173.22,234.89 173.56,234.79 173.90,234.46 174.24,233.69 174.58,232.34 174.92,230.35 175.26,227.91 175.60,225.19 175.94,222.37 176.28,219.52 176.62,216.67 176.96,213.82 177.30,210.97 177.64,208.12 177.98,205.27 178.32,202.42 178.66,199.57 179.00,196.73 179.34,193.95 179.67,191.38 180.01,189.18 180.35,187.58 180.69,186.58 181.03,186.11 181.37,185.93 181.71,185.90 182.05,185.90 182.39,185.90 182.73,185.90 183.07,185.90 183.41,185.90 183.75,185.90 184.09,185.90 184.43,185.90 184.77,185.90 185.11,185.90 185.45,185.90 185.79,185.90 186.12,185.90 186.46,185.90 186.80,185.90 187.14,185.90 187.48,185.90 187.82,185.90 188.16,185.90 188.50,185.90 188.84,185.90 189.18,185.90 189.52,185.90 189.86,185.90 190.20,185.90 190.54,185.90 190.88,185.90 191.22,185.90 191.56,185.90 191.90,185.90 192.24,185.90 192.58,185.90 192.92,185.90 193.25,185.90 193.59,185.90 193.93,185.90 194.27,185.90 194.61,185.90 194.95,185.90 195.29,185.90 195.63,185.90 195.97,185.90 196.31,185.90 196.65,185.90 196.99,185.90 197.33,185.90 197.67,185.90 198.01,185.90 198.35,185.90 198.69,185.90 199.03,185.90 199.37,185.90 199.70,185.90 200.04,185.90 200.38,185.90 200.72,185.90 201.06,185.90 201.40,185.90 201.74,185.90 202.08,185.90 202.42,185.90 202.76,185.90 203.10,185.90 203.44,185.90 203.78,185.90 204.12,185.90 204.46,185.90 204.80,185.90 205.14,185.90 205.48,185.90 205.82,185.90 206.16,185.90 206.50,185.90 206.83,185.90 207.17,185.90 207.51,185.90 207.85,185.90 208.19,185.90 208.53,185.90 208.87,185.90 209.21,185.90 209.55,185.90 209.89,185.90 210.23,185.90 210.57,185.90 210.91,185.90 211.25,185.90 211.59,185.90 211.93,185.90 212.27,185.90 212.61,185.90 212.95,185.90 213.29,185.90 213.62,185.90 213.96,185.90 214.30,185.95 214.64,186.14 214.98,186.67 215.32,187.68 215.66,189.28 216.00,191.36 216.34,193.77 216.68,196.32 217.02,198.93 217.36,201.54 217.70,204.14 218.04,206.75 218.38,209.36 218.72,211.96 219.06,214.57 219.40,217.18 219.74,219.78 220.07,222.39 220.41,224.99 220.75,227.53 221.09,229.89 221.43,231.90 221.77,233.36 222.11,234.28 222.45,234.71 222.79,234.87 223.13,234.90 223.47,234.90 223.81,234.90 224.15,234.90 224.49,234.90 224.83,234.90 225.17,234.90 225.51,234.90 225.85,234.90 226.19,234.90 226.53,234.90 226.87,234.90 227.20,234.90 227.54,234.90 227.88,234.90 228.22,234.90 228.56,234.90 228.90,234.90 229.24,234.90 229.58,234.90 229.92,234.90 230.26,234.90 230.60,234.90 230.94,234.90 231.28,234.90 231.62,234.90 231.96,234.90 232.30,234.90 232.64,234.90 232.98,234.90 233.32,234.90 233.66,234.90 233.99,234.90 234.33,234.90 234.67,234.90 235.01,234.90 235.35,234.90 235.69,234.90 236.03,234.90 236.37,234.90 236.71,234.90 237.05,234.90 237.39,234.90 237.73,234.90 238.07,234.90 238.41,234.90 238.75,234.90 239.09,234.90 239.43,234.90 239.77,234.90 240.11,234.90 240.44,234.90 240.78,234.90 241.12,234.90 241.46,234.90 241.80,234.90 242.14,234.90 242.48,234.90 242.82,234.90 243.16,234.90 243.50,234.90 243.84,234.90 244.18,234.90 244.52,234.90 244.86,234.90 245.20,234.90 245.54,234.90 245.88,234.90 246.22,234.90 246.56,234.90 246.90,234.90 247.24,234.90 247.57,234.90 247.91,234.90 248.25,234.90 248.59,234.90 248.93,234.90 249.27,234.90 249.61,234.90 249.95,234.90 250.29,234.90 250.63,234.90 250.97,234.90 251.31,234.90 251.65,234.90 251.99,234.90 252.33,234.90 252.67,234.90 253.01,234.88 253.35,234.75 253.69,234.35 254.03,233.51 254.36,232.04 254.70,230.02 255.04,227.55 255.38,224.87 255.72,222.09 256.06,219.31 256.40,216.53 256.74,213.74 257.08,210.96 257.42,208.17 257.76,205.39 258.10,202.60 258.44,199.82 258.78,197.04 259.12,194.30 259.46,191.73 259.80,189.51 260.14,187.80 260.48,186.72 260.81,186.16 261.15,185.95 261.49,185.90 261.83,185.90 262.17,185.90 262.51,185.90 262.85,185.90 263.19,185.90 263.53,185.90 263.87,185.90 264.21,185.90 264.55,185.90 264.89,185.90 265.23,185.90 265.57,185.90 265.91,185.90 266.25,185.90 266.59,185.90 266.93,185.90 267.27,185.90 267.61,185.90 267.94,185.90 268.28,185.90 268.62,185.90 268.96,185.90 269.30,185.90 269.64,185.90 269.98,185.90 270.32,185.90" fill="none" stroke="#1f1fff" stroke-width="1.35" stroke-dasharray="3.8 1.5" stroke-linejoin="round"/>
<polygon points="114.83,183.40 115.42,185.09 117.21,185.13 115.78,186.21 116.30,187.92 114.83,186.90 113.36,187.92 113.88,186.21 112.45,185.13 114.24,185.09" fill="#1a8a1a" stroke="#1a8a1a" stroke-width="0.4"/>
<text x="116.9" y="183.6" font-family='"DejaVu Sans", "Liberation Sans", sans-serif' font-size="6" fill="#333">A</text>
<polygon points="148.78,232.40 149.37,234.09 151.16,234.13 149.73,235.21 150.25,236.92 148.78,235.90 147.31,236.92 147.83,235.21 146.40,234.13 148.19,234.09" fill="#1a8a1a" stroke="#1a8a1a" stroke-width="0.4"/>
<text x="151.2" y="241.0" font-family='"DejaVu Sans", "Liberation Sans", sans-serif' font-size="6" fill="#333">B</text>
<polygon points="189.52,183.40 190.11,185.09 191.90,185.13 190.47,186.21 190.99,187.92 189.52,186.90 188.05,187.92 188.57,186.21 187.14,185.13 188.93,185.09" fill="#1a8a1a" stroke="#1a8a1a" stroke-width="0.4"/>
<text x="191.6" y="183.6" font-family='"DejaVu Sans", "Liberation Sans", sans-serif' font-size="6" fill="#333">C</text>
<polygon points="230.26,232.40 230.85,234.09 232.64,234.13 231.21,235.21 231.73,236.92 230.26,235.90 228.79,236.92 229.31,235.21 227.88,234.13 229.67,234.09" fill="#1a8a1a" stroke="#1a8a1a" stroke-width="0.4"/>
<text x="232.5" y="240.9" font-family='"DejaVu Sans", "Liberation Sans", sans-serif' font-size="6" fill="#333">D</text>
<rect x="67.6" y="216.9" width="59.2" height="22.3" rx="1" fill="#fff" fill-opacity="0.8" stroke="#ccc" stroke-width="0.5"/>
<line x1="70.6" y1="222.1" x2="85" y2="222.1" stroke="#ff7f0e" stroke-width="1.35"/>
<line x1="70.6" y1="232.6" x2="85" y2="232.6" stroke="#1f1fff" stroke-width="1.35" stroke-dasharray="3.8 1.5"/>
<text x="90.7" y="224.5" font-family='"Liberation Serif", serif' font-weight="bold" stroke="#111" stroke-width="0.22" font-size="7.3" fill="#111">Port</text>
<text x="90.7" y="235" font-family='"Liberation Serif", serif' font-weight="bold" stroke="#111" stroke-width="0.22" font-size="7.3" fill="#111">Starboard</text>
<rect x="64.5" y="169.4" width="216.7" height="73.9" fill="none" stroke="#4a4a4a" stroke-width="0.8"/>
<text transform="translate(44.3,206.2) rotate(-90)" text-anchor="middle" font-family='"Liberation Serif", serif' font-weight="bold" stroke="#111" stroke-width="0.22" font-size="7.3" fill="#111">Azimuth angle [deg]</text>
</g>
<g>
<rect x="64.5" y="257.8" width="216.7" height="73.19999999999999" fill="#fff"/>
<line x1="67.3" y1="257.8" x2="67.3" y2="331" stroke="#b8b8b8" stroke-width="0.5"/>
<line x1="67.3" y1="331" x2="67.3" y2="332.8" stroke="#4a4a4a" stroke-width="0.5"/>
<text x="67.3" y="340.2" text-anchor="middle" font-family='"DejaVu Sans", "Liberation Sans", sans-serif' font-size="5.8" fill="#1a1a1a" stroke="#1a1a1a" stroke-width="0.12">1380</text>
<line x1="94.5" y1="257.8" x2="94.5" y2="331" stroke="#b8b8b8" stroke-width="0.5"/>
<line x1="94.5" y1="331" x2="94.5" y2="332.8" stroke="#4a4a4a" stroke-width="0.5"/>
<text x="94.5" y="340.2" text-anchor="middle" font-family='"DejaVu Sans", "Liberation Sans", sans-serif' font-size="5.8" fill="#1a1a1a" stroke="#1a1a1a" stroke-width="0.12">1400</text>
<line x1="121.6" y1="257.8" x2="121.6" y2="331" stroke="#b8b8b8" stroke-width="0.5"/>
<line x1="121.6" y1="331" x2="121.6" y2="332.8" stroke="#4a4a4a" stroke-width="0.5"/>
<text x="121.6" y="340.2" text-anchor="middle" font-family='"DejaVu Sans", "Liberation Sans", sans-serif' font-size="5.8" fill="#1a1a1a" stroke="#1a1a1a" stroke-width="0.12">1420</text>
<line x1="148.8" y1="257.8" x2="148.8" y2="331" stroke="#b8b8b8" stroke-width="0.5"/>
<line x1="148.8" y1="331" x2="148.8" y2="332.8" stroke="#4a4a4a" stroke-width="0.5"/>
<text x="148.8" y="340.2" text-anchor="middle" font-family='"DejaVu Sans", "Liberation Sans", sans-serif' font-size="5.8" fill="#1a1a1a" stroke="#1a1a1a" stroke-width="0.12">1440</text>
<line x1="175.9" y1="257.8" x2="175.9" y2="331" stroke="#b8b8b8" stroke-width="0.5"/>
<line x1="175.9" y1="331" x2="175.9" y2="332.8" stroke="#4a4a4a" stroke-width="0.5"/>
<text x="175.9" y="340.2" text-anchor="middle" font-family='"DejaVu Sans", "Liberation Sans", sans-serif' font-size="5.8" fill="#1a1a1a" stroke="#1a1a1a" stroke-width="0.12">1460</text>
<line x1="203.1" y1="257.8" x2="203.1" y2="331" stroke="#b8b8b8" stroke-width="0.5"/>
<line x1="203.1" y1="331" x2="203.1" y2="332.8" stroke="#4a4a4a" stroke-width="0.5"/>
<text x="203.1" y="340.2" text-anchor="middle" font-family='"DejaVu Sans", "Liberation Sans", sans-serif' font-size="5.8" fill="#1a1a1a" stroke="#1a1a1a" stroke-width="0.12">1480</text>
<line x1="230.3" y1="257.8" x2="230.3" y2="331" stroke="#b8b8b8" stroke-width="0.5"/>
<line x1="230.3" y1="331" x2="230.3" y2="332.8" stroke="#4a4a4a" stroke-width="0.5"/>
<text x="230.3" y="340.2" text-anchor="middle" font-family='"DejaVu Sans", "Liberation Sans", sans-serif' font-size="5.8" fill="#1a1a1a" stroke="#1a1a1a" stroke-width="0.12">1500</text>
<line x1="257.4" y1="257.8" x2="257.4" y2="331" stroke="#b8b8b8" stroke-width="0.5"/>
<line x1="257.4" y1="331" x2="257.4" y2="332.8" stroke="#4a4a4a" stroke-width="0.5"/>
<text x="257.4" y="340.2" text-anchor="middle" font-family='"DejaVu Sans", "Liberation Sans", sans-serif' font-size="5.8" fill="#1a1a1a" stroke="#1a1a1a" stroke-width="0.12">1520</text>
<line x1="64.5" y1="330.2" x2="281.2" y2="330.2" stroke="#b8b8b8" stroke-width="0.5"/>
<line x1="62.7" y1="330.2" x2="64.5" y2="330.2" stroke="#4a4a4a" stroke-width="0.5"/>
<text x="60.3" y="332.4" text-anchor="end" font-family='"DejaVu Sans", "Liberation Sans", sans-serif' font-size="5.8" fill="#1a1a1a" stroke="#1a1a1a" stroke-width="0.12">260</text>
<line x1="64.5" y1="315.5" x2="281.2" y2="315.5" stroke="#b8b8b8" stroke-width="0.5"/>
<line x1="62.7" y1="315.5" x2="64.5" y2="315.5" stroke="#4a4a4a" stroke-width="0.5"/>
<text x="60.3" y="317.7" text-anchor="end" font-family='"DejaVu Sans", "Liberation Sans", sans-serif' font-size="5.8" fill="#1a1a1a" stroke="#1a1a1a" stroke-width="0.12">280</text>
<line x1="64.5" y1="300.8" x2="281.2" y2="300.8" stroke="#b8b8b8" stroke-width="0.5"/>
<line x1="62.7" y1="300.8" x2="64.5" y2="300.8" stroke="#4a4a4a" stroke-width="0.5"/>
<text x="60.3" y="303.0" text-anchor="end" font-family='"DejaVu Sans", "Liberation Sans", sans-serif' font-size="5.8" fill="#1a1a1a" stroke="#1a1a1a" stroke-width="0.12">300</text>
<line x1="64.5" y1="286.1" x2="281.2" y2="286.1" stroke="#b8b8b8" stroke-width="0.5"/>
<line x1="62.7" y1="286.1" x2="64.5" y2="286.1" stroke="#4a4a4a" stroke-width="0.5"/>
<text x="60.3" y="288.3" text-anchor="end" font-family='"DejaVu Sans", "Liberation Sans", sans-serif' font-size="5.8" fill="#1a1a1a" stroke="#1a1a1a" stroke-width="0.12">320</text>
<line x1="64.5" y1="271.4" x2="281.2" y2="271.4" stroke="#b8b8b8" stroke-width="0.5"/>
<line x1="62.7" y1="271.4" x2="64.5" y2="271.4" stroke="#4a4a4a" stroke-width="0.5"/>
<text x="60.3" y="273.6" text-anchor="end" font-family='"DejaVu Sans", "Liberation Sans", sans-serif' font-size="5.8" fill="#1a1a1a" stroke="#1a1a1a" stroke-width="0.12">340</text>
<polyline points="74.09,291.25 74.77,291.37 75.45,291.49 76.13,291.61 76.81,291.71 77.48,291.80 78.16,291.88 78.84,291.94 79.52,291.98 80.20,292.01 80.88,292.04 81.56,292.06 82.24,292.08 82.92,292.10 83.60,292.12 84.28,292.12 84.95,292.13 85.63,292.11 86.31,292.06 86.99,291.98 87.67,291.88 88.35,291.76 89.03,291.61 89.71,291.36 90.39,290.92 91.06,290.38 91.74,289.77 92.42,289.07 93.10,288.19 93.78,287.19 94.46,286.10 95.14,284.88 95.82,283.48 96.50,281.96 97.18,280.38 97.86,278.80 98.53,277.28 99.21,275.77 99.89,274.21 100.57,272.65 101.25,271.14 101.93,269.73 102.61,268.46 103.29,267.28 103.97,266.12 104.65,265.03 105.32,264.04 106.00,263.21 106.68,262.58 107.36,262.06 108.04,261.59 108.72,261.24 109.40,261.11 110.08,261.21 110.76,261.46 111.44,261.82 112.11,262.21 112.79,262.71 113.47,263.38 114.15,264.19 114.83,265.09 115.51,266.03 116.19,266.99 116.87,267.98 117.55,269.07 118.22,270.22 118.90,271.43 119.58,272.68 120.26,273.96 120.94,275.26 121.62,276.54 122.30,277.85 122.98,279.18 123.66,280.55 124.34,281.93 125.02,283.34 125.69,284.76 126.37,286.20 127.05,287.64 127.73,289.07 128.41,290.51 129.09,291.95 129.77,293.40 130.45,294.86 131.13,296.34 131.81,297.81 132.48,299.29 133.16,300.78 133.84,302.26 134.52,303.74 135.20,305.21 135.88,306.71 136.56,308.25 137.24,309.78 137.92,311.28 138.59,312.71 139.27,314.03 139.95,315.31 140.63,316.57 141.31,317.75 141.99,318.77 142.67,319.54 143.35,320.17 144.03,320.73 144.71,321.09 145.38,321.14 146.06,320.96 146.74,320.65 147.42,320.28 148.10,319.80 148.78,319.14 149.46,318.34 150.14,317.44 150.82,316.48 151.50,315.50 152.18,314.47 152.85,313.33 153.53,312.10 154.21,310.79 154.89,309.44 155.57,308.04 156.25,306.63 156.93,305.21 157.61,303.76 158.29,302.25 158.97,300.70 159.64,299.10 160.32,297.50 161.00,295.89 161.68,294.29 162.36,292.71 163.04,291.15 163.72,289.57 164.40,287.98 165.08,286.39 165.75,284.80 166.43,283.24 167.11,281.69 167.79,280.18 168.47,278.71 169.15,277.28 169.83,275.87 170.51,274.46 171.19,273.07 171.87,271.71 172.55,270.41 173.22,269.17 173.90,268.03 174.58,266.99 175.26,266.01 175.94,265.06 176.62,264.19 177.30,263.47 177.98,262.95 178.66,262.55 179.34,262.19 180.01,261.94 180.69,261.84 181.37,261.94 182.05,262.19 182.73,262.55 183.41,262.95 184.09,263.47 184.77,264.21 185.45,265.08 186.12,266.03 186.80,266.99 187.48,267.99 188.16,269.07 188.84,270.22 189.52,271.43 190.20,272.69 190.88,273.96 191.56,275.26 192.24,276.54 192.92,277.85 193.59,279.18 194.27,280.55 194.95,281.93 195.63,283.34 196.31,284.76 196.99,286.20 197.67,287.64 198.35,289.07 199.03,290.51 199.70,291.95 200.38,293.42 201.06,294.90 201.74,296.38 202.42,297.87 203.10,299.36 203.78,300.85 204.46,302.32 205.14,303.78 205.82,305.21 206.50,306.63 207.17,308.05 207.85,309.45 208.53,310.85 209.21,312.23 209.89,313.59 210.57,314.93 211.25,316.24 211.93,317.54 212.61,318.86 213.29,320.15 213.96,321.39 214.64,322.54 215.32,323.58 216.00,324.57 216.68,325.50 217.36,326.31 218.04,326.89 218.72,327.34 219.40,327.70 220.07,327.85 220.75,327.76 221.43,327.54 222.11,327.26 222.79,326.83 223.47,326.18 224.15,325.38 224.83,324.49 225.51,323.58 226.19,322.64 226.87,321.58 227.54,320.44 228.22,319.23 228.90,317.99 229.58,316.74 230.26,315.50 230.94,314.26 231.62,312.99 232.30,311.69 232.98,310.38 233.66,309.05 234.33,307.70 235.01,306.35 235.69,304.99 236.37,303.63 237.05,302.27 237.73,300.90 238.41,299.53 239.09,298.14 239.77,296.74 240.44,295.33 241.12,293.93 241.80,292.52 242.48,291.11 243.16,289.70 243.84,288.31 244.52,286.90 245.20,285.47 245.88,284.03 246.56,282.59 247.24,281.15 247.91,279.73 248.59,278.32 249.27,276.95 249.95,275.62 250.63,274.34 251.31,273.08 251.99,271.83 252.67,270.60 253.35,269.42 254.03,268.29 254.70,267.23 255.38,266.25 256.06,265.33 256.74,264.44 257.42,263.67 258.10,263.09 258.78,262.65 259.46,262.29 260.14,262.14 260.81,262.26 261.49,262.55 262.17,262.95 262.85,263.60 263.53,264.61 264.21,265.80 264.89,266.99 265.57,268.17 266.25,269.44 266.93,270.77 267.61,272.13 268.28,273.53 268.96,274.98 269.64,276.47 270.32,278.01" fill="none" stroke="#1f77b4" stroke-width="1.2" stroke-linejoin="round"/>
<rect x="64.5" y="257.8" width="216.7" height="73.19999999999999" fill="none" stroke="#4a4a4a" stroke-width="0.8"/>
<text transform="translate(44.3,294.8) rotate(-90)" text-anchor="middle" font-family='"Liberation Serif", serif' font-weight="bold" stroke="#111" stroke-width="0.22" font-size="7.3" fill="#111">heading [deg]</text>
<text x="172.5" y="349" text-anchor="middle" font-family='"Liberation Serif", serif' font-weight="bold" stroke="#111" stroke-width="0.22" font-size="7.1" fill="#111">Time [s]</text>
</g>
<g>
<rect x="332.5" y="169.7" width="212.70000000000005" height="159.40000000000003" fill="#fff"/>
<line x1="373.6" y1="169.7" x2="373.6" y2="329.1" stroke="#b8b8b8" stroke-width="0.5"/>
<line x1="373.6" y1="329.1" x2="373.6" y2="330.90000000000003" stroke="#4a4a4a" stroke-width="0.5"/>
<text x="373.6" y="338.3" text-anchor="middle" font-family='"DejaVu Sans", "Liberation Sans", sans-serif' font-size="5.8" fill="#1a1a1a" stroke="#1a1a1a" stroke-width="0.12">3050</text>
<line x1="416.8" y1="169.7" x2="416.8" y2="329.1" stroke="#b8b8b8" stroke-width="0.5"/>
<line x1="416.8" y1="329.1" x2="416.8" y2="330.90000000000003" stroke="#4a4a4a" stroke-width="0.5"/>
<text x="416.8" y="338.3" text-anchor="middle" font-family='"DejaVu Sans", "Liberation Sans", sans-serif' font-size="5.8" fill="#1a1a1a" stroke="#1a1a1a" stroke-width="0.12">3100</text>
<line x1="460.1" y1="169.7" x2="460.1" y2="329.1" stroke="#b8b8b8" stroke-width="0.5"/>
<line x1="460.1" y1="329.1" x2="460.1" y2="330.90000000000003" stroke="#4a4a4a" stroke-width="0.5"/>
<text x="460.1" y="338.3" text-anchor="middle" font-family='"DejaVu Sans", "Liberation Sans", sans-serif' font-size="5.8" fill="#1a1a1a" stroke="#1a1a1a" stroke-width="0.12">3150</text>
<line x1="503.3" y1="169.7" x2="503.3" y2="329.1" stroke="#b8b8b8" stroke-width="0.5"/>
<line x1="503.3" y1="329.1" x2="503.3" y2="330.90000000000003" stroke="#4a4a4a" stroke-width="0.5"/>
<text x="503.3" y="338.3" text-anchor="middle" font-family='"DejaVu Sans", "Liberation Sans", sans-serif' font-size="5.8" fill="#1a1a1a" stroke="#1a1a1a" stroke-width="0.12">3200</text>
<line x1="332.5" y1="305.2" x2="545.2" y2="305.2" stroke="#b8b8b8" stroke-width="0.5"/>
<line x1="330.7" y1="305.2" x2="332.5" y2="305.2" stroke="#4a4a4a" stroke-width="0.5"/>
<text x="328.5" y="307.4" text-anchor="end" font-family='"DejaVu Sans", "Liberation Sans", sans-serif' font-size="5.8" fill="#1a1a1a" stroke="#1a1a1a" stroke-width="0.12">3250</text>
<line x1="332.5" y1="271.4" x2="545.2" y2="271.4" stroke="#b8b8b8" stroke-width="0.5"/>
<line x1="330.7" y1="271.4" x2="332.5" y2="271.4" stroke="#4a4a4a" stroke-width="0.5"/>
<text x="328.5" y="273.6" text-anchor="end" font-family='"DejaVu Sans", "Liberation Sans", sans-serif' font-size="5.8" fill="#1a1a1a" stroke="#1a1a1a" stroke-width="0.12">3300</text>
<line x1="332.5" y1="237.6" x2="545.2" y2="237.6" stroke="#b8b8b8" stroke-width="0.5"/>
<line x1="330.7" y1="237.6" x2="332.5" y2="237.6" stroke="#4a4a4a" stroke-width="0.5"/>
<text x="328.5" y="239.8" text-anchor="end" font-family='"DejaVu Sans", "Liberation Sans", sans-serif' font-size="5.8" fill="#1a1a1a" stroke="#1a1a1a" stroke-width="0.12">3350</text>
<line x1="332.5" y1="203.8" x2="545.2" y2="203.8" stroke="#b8b8b8" stroke-width="0.5"/>
<line x1="330.7" y1="203.8" x2="332.5" y2="203.8" stroke="#4a4a4a" stroke-width="0.5"/>
<text x="328.5" y="206.0" text-anchor="end" font-family='"DejaVu Sans", "Liberation Sans", sans-serif' font-size="5.8" fill="#1a1a1a" stroke="#1a1a1a" stroke-width="0.12">3400</text>
<polyline points="355.10,185.10 355.86,185.31 356.92,185.60 358.18,185.95 359.51,186.32 360.82,186.68 362.00,187.00 363.08,187.29 364.16,187.59 365.21,187.87 366.22,188.14 367.16,188.38 368.00,188.60 368.70,188.79 369.28,188.95 369.78,189.09 370.28,189.21 370.83,189.31 371.50,189.40 372.30,189.47 373.17,189.52 374.10,189.55 375.06,189.57 376.04,189.59 377.00,189.60 377.96,189.60 378.93,189.58 379.91,189.55 380.90,189.53 381.90,189.54 382.90,189.60 383.92,189.70 384.96,189.84 386.01,190.01 387.04,190.20 388.04,190.40 389.00,190.60 389.90,190.81 390.75,191.02 391.57,191.25 392.37,191.49 393.18,191.74 394.00,192.00 394.83,192.27 395.66,192.56 396.49,192.86 397.32,193.16 398.16,193.48 399.00,193.80 399.87,194.13 400.77,194.48 401.67,194.83 402.56,195.19 403.41,195.55 404.20,195.90 404.91,196.25 405.57,196.59 406.19,196.94 406.79,197.29 407.38,197.64 408.00,198.00 408.65,198.37 409.31,198.75 409.97,199.13 410.61,199.52 411.23,199.91 411.80,200.30 412.32,200.69 412.79,201.08 413.24,201.48 413.66,201.87 414.08,202.28 414.50,202.70 414.92,203.13 415.32,203.56 415.72,204.01 416.11,204.46 416.50,204.92 416.90,205.40 417.30,205.89 417.71,206.40 418.12,206.91 418.52,207.44 418.92,207.97 419.30,208.50 419.68,209.04 420.06,209.59 420.43,210.14 420.78,210.70 421.11,211.25 421.40,211.80 421.66,212.34 421.89,212.88 422.09,213.41 422.27,213.94 422.44,214.47 422.60,215.00 422.75,215.51 422.88,216.01 423.00,216.51 423.11,217.02 423.21,217.54 423.30,218.10 423.38,218.69 423.43,219.29 423.48,219.92 423.53,220.56 423.60,221.22 423.70,221.90 423.83,222.60 423.97,223.33 424.13,224.08 424.31,224.83 424.50,225.58 424.70,226.30 424.91,227.00 425.13,227.69 425.37,228.37 425.62,229.04 425.90,229.72 426.20,230.40 426.53,231.09 426.89,231.79 427.27,232.48 427.67,233.17 428.08,233.85 428.50,234.50 428.93,235.14 429.37,235.77 429.83,236.39 430.29,236.99 430.75,237.56 431.20,238.10 431.65,238.61 432.09,239.08 432.54,239.53 432.99,239.96 433.44,240.38 433.90,240.80 434.37,241.21 434.86,241.61 435.34,242.00 435.83,242.38 436.32,242.74 436.80,243.10 437.27,243.44 437.74,243.77 438.20,244.09 438.66,244.40 439.13,244.71 439.60,245.00 440.06,245.28 440.52,245.54 440.98,245.80 441.45,246.06 441.95,246.32 442.50,246.60 443.10,246.90 443.73,247.22 444.40,247.55 445.09,247.88 445.79,248.20 446.50,248.50 447.23,248.79 447.98,249.08 448.75,249.36 449.52,249.62 450.27,249.87 451.00,250.10 451.69,250.30 452.36,250.49 453.01,250.66 453.66,250.81 454.32,250.96 455.00,251.10 455.70,251.24 456.40,251.36 457.12,251.48 457.85,251.59 458.61,251.70 459.40,251.80 460.23,251.89 461.10,251.98 461.99,252.06 462.90,252.14 463.81,252.22 464.70,252.30 465.58,252.38 466.47,252.46 467.36,252.54 468.24,252.62 469.12,252.71 470.00,252.80 470.87,252.89 471.74,252.98 472.60,253.08 473.46,253.19 474.33,253.32 475.20,253.50 476.08,253.72 476.98,253.98 477.87,254.26 478.77,254.57 479.64,254.88 480.50,255.20 481.33,255.52 482.14,255.86 482.94,256.21 483.73,256.57 484.51,256.93 485.30,257.30 486.09,257.67 486.89,258.04 487.69,258.43 488.47,258.81 489.25,259.20 490.00,259.60 490.74,260.00 491.47,260.41 492.19,260.83 492.89,261.24 493.56,261.67 494.20,262.10 494.81,262.53 495.38,262.97 495.92,263.41 496.46,263.86 496.98,264.32 497.50,264.80 498.03,265.29 498.56,265.80 499.07,266.33 499.58,266.85 500.06,267.38 500.50,267.90 500.91,268.41 501.28,268.93 501.63,269.44 501.96,269.95 502.28,270.47 502.60,271.00 502.91,271.54 503.22,272.09 503.51,272.64 503.79,273.20 504.06,273.75 504.30,274.30 504.52,274.84 504.73,275.38 504.91,275.91 505.09,276.44 505.25,276.97 505.40,277.50 505.55,278.01 505.68,278.51 505.81,279.01 505.92,279.51 506.02,280.04 506.10,280.60 506.16,281.21 506.21,281.85 506.24,282.51 506.26,283.19 506.28,283.85 506.30,284.50 506.32,285.13 506.34,285.76 506.35,286.38 506.36,286.99 506.38,287.60 506.40,288.20 506.43,288.80 506.46,289.39 506.49,289.97 506.52,290.55 506.56,291.12 506.60,291.70 506.64,292.26 506.67,292.80 506.70,293.34 506.74,293.90 506.81,294.48 506.90,295.10 507.02,295.78 507.16,296.51 507.32,297.26 507.50,298.03 507.70,298.78 507.90,299.50 508.11,300.19 508.33,300.86 508.57,301.52 508.82,302.18 509.10,302.84 509.40,303.50 509.73,304.17 510.09,304.85 510.47,305.53 510.87,306.20 511.28,306.86 511.70,307.50 512.13,308.13 512.57,308.74 513.03,309.35 513.50,309.94 513.99,310.53 514.50,311.10 515.04,311.66 515.59,312.22 516.17,312.76 516.76,313.29 517.37,313.81 518.00,314.30 518.66,314.78 519.36,315.26 520.07,315.71 520.78,316.14 521.46,316.54 522.10,316.90 522.69,317.21 523.23,317.47 523.76,317.69 524.27,317.90 524.78,318.10 525.30,318.30 525.83,318.50 526.36,318.69 526.88,318.86 527.41,319.04 527.95,319.21 528.50,319.40 529.06,319.60 529.64,319.80 530.22,320.00 530.81,320.20 531.41,320.40 532.00,320.60 532.64,320.80 533.33,321.01 534.02,321.23 534.66,321.42 535.21,321.58 535.60,321.70" fill="none" stroke="#777" stroke-width="0.75"/>
<polyline points="382.90,189.60 383.92,189.70 384.96,189.84 386.01,190.01 387.04,190.20 388.04,190.40 389.00,190.60 389.90,190.81 390.75,191.02 391.57,191.25 392.37,191.49 393.18,191.74 394.00,192.00 394.83,192.27 395.66,192.56 396.49,192.86 397.32,193.16 398.16,193.48 399.00,193.80 399.87,194.13 400.77,194.48 401.67,194.83 402.56,195.19 403.41,195.55 404.20,195.90 404.91,196.25 405.57,196.59 406.19,196.94 406.79,197.29 407.38,197.64 408.00,198.00 408.65,198.37 409.31,198.75 409.97,199.13 410.61,199.52 411.23,199.91 411.80,200.30 412.32,200.69 412.79,201.08 413.24,201.48 413.66,201.87 414.08,202.28 414.50,202.70 414.92,203.13 415.32,203.56 415.72,204.01 416.11,204.46" fill="none" stroke="#ff1a1a" stroke-width="1.2" stroke-dasharray="3.6 1.5"/>
<polyline points="423.70,221.90 423.83,222.60 423.97,223.33 424.13,224.08 424.31,224.83 424.50,225.58 424.70,226.30 424.91,227.00 425.13,227.69 425.37,228.37 425.62,229.04 425.90,229.72 426.20,230.40 426.53,231.09 426.89,231.79 427.27,232.48 427.67,233.17 428.08,233.85 428.50,234.50 428.93,235.14 429.37,235.77 429.83,236.39 430.29,236.99 430.75,237.56 431.20,238.10 431.65,238.61 432.09,239.08 432.54,239.53 432.99,239.96 433.44,240.38 433.90,240.80 434.37,241.21 434.86,241.61 435.34,242.00 435.83,242.38 436.32,242.74 436.80,243.10 437.27,243.44 437.74,243.77 438.20,244.09 438.66,244.40 439.13,244.71 439.60,245.00 440.06,245.28 440.52,245.54 440.98,245.80 441.45,246.06" fill="none" stroke="#ff1a1a" stroke-width="1.2" stroke-dasharray="3.6 1.5"/>
<polyline points="475.20,253.50 476.08,253.72 476.98,253.98 477.87,254.26 478.77,254.57 479.64,254.88 480.50,255.20 481.33,255.52 482.14,255.86 482.94,256.21 483.73,256.57 484.51,256.93 485.30,257.30 486.09,257.67 486.89,258.04 487.69,258.43 488.47,258.81 489.25,259.20 490.00,259.60 490.74,260.00 491.47,260.41 492.19,260.83 492.89,261.24 493.56,261.67 494.20,262.10 494.81,262.53 495.38,262.97 495.92,263.41 496.46,263.86 496.98,264.32 497.50,264.80 498.03,265.29 498.56,265.80 499.07,266.33 499.58,266.85 500.06,267.38 500.50,267.90 500.91,268.41 501.28,268.93" fill="none" stroke="#ff1a1a" stroke-width="1.2" stroke-dasharray="3.6 1.5"/>
<polyline points="506.90,295.10 507.02,295.78 507.16,296.51 507.32,297.26 507.50,298.03 507.70,298.78 507.90,299.50 508.11,300.19 508.33,300.86 508.57,301.52 508.82,302.18 509.10,302.84 509.40,303.50 509.73,304.17 510.09,304.85 510.47,305.53 510.87,306.20 511.28,306.86 511.70,307.50 512.13,308.13 512.57,308.74 513.03,309.35 513.50,309.94 513.99,310.53 514.50,311.10 515.04,311.66 515.59,312.22 516.17,312.76 516.76,313.29 517.37,313.81 518.00,314.30 518.66,314.78 519.36,315.26 520.07,315.71 520.78,316.14 521.46,316.54 522.10,316.90 522.69,317.21 523.23,317.47 523.76,317.69 524.27,317.90 524.78,318.10 525.30,318.30 525.83,318.50" fill="none" stroke="#ff1a1a" stroke-width="1.2" stroke-dasharray="3.6 1.5"/>
<polyline points="382.90,189.60 383.92,189.70 384.96,189.84 386.01,190.01 387.04,190.20 388.04,190.40 389.00,190.60 389.90,190.81 390.75,191.02 391.57,191.25 392.37,191.49 393.18,191.74 394.00,192.00 394.83,192.27 395.66,192.56 396.49,192.86 397.32,193.16 398.16,193.48 399.00,193.80 399.87,194.13 400.77,194.48 402.63,195.18 404.48,195.87 406.35,196.56 408.21,197.23 410.09,197.88 411.96,198.53 413.84,199.17 415.72,199.79 417.61,200.41 419.50,201.01 421.40,201.60" fill="none" stroke="#1f1fff" stroke-width="1.2" stroke-dasharray="3.6 1.5"/>
<polyline points="423.70,221.90 423.83,222.60 423.97,223.33 424.13,224.08 424.31,224.83 424.50,225.58 424.70,226.30 424.91,227.00 425.13,227.69 425.37,228.37 425.62,229.04 425.90,229.72 426.20,230.40 426.94,232.11 427.70,233.81 428.48,235.50 429.27,237.18 430.09,238.85 430.93,240.52 431.78,242.17 432.66,243.82 433.55,245.45 434.47,247.08 435.40,248.70" fill="none" stroke="#1f1fff" stroke-width="1.2" stroke-dasharray="3.6 1.5"/>
<polyline points="475.20,253.50 476.08,253.72 476.98,253.98 477.87,254.26 478.77,254.57 479.64,254.88 480.50,255.20 481.33,255.52 482.14,255.86 482.94,256.21 483.73,256.57 484.51,256.93 485.30,257.30 486.09,257.67 486.89,258.04 487.69,258.43 488.47,258.81 489.25,259.20 490.00,259.60 491.54,260.40 493.08,261.19 494.61,261.99 496.15,262.79 497.69,263.59 499.22,264.39 500.76,265.19 502.30,265.99 503.83,266.79 505.37,267.60 506.90,268.40" fill="none" stroke="#1f1fff" stroke-width="1.2" stroke-dasharray="3.6 1.5"/>
<polyline points="506.90,295.10 507.02,295.78 507.16,296.51 507.32,297.26 507.50,298.03 507.70,298.78 507.90,299.50 508.11,300.19 508.33,300.86 508.57,301.52 508.82,302.18 509.10,302.84 509.40,303.50 509.73,304.17 510.09,304.85 510.98,306.50 511.93,308.11 512.95,309.68 514.03,311.21 515.17,312.69 516.38,314.13 517.66,315.53 519.00,316.89 520.40,318.20 521.87,319.47 523.40,320.70" fill="none" stroke="#1f1fff" stroke-width="1.2" stroke-dasharray="3.6 1.5"/>
<polygon points="382.90,187.10 383.49,188.79 385.28,188.83 383.85,189.91 384.37,191.62 382.90,190.60 381.43,191.62 381.95,189.91 380.52,188.83 382.31,188.79" fill="#1a8a1a" stroke="#1a8a1a" stroke-width="0.4"/>
<text x="385.9" y="187.7" font-family='"DejaVu Sans", "Liberation Sans", sans-serif' font-size="6" fill="#333">A</text>
<polygon points="423.70,219.40 424.29,221.09 426.08,221.13 424.65,222.21 425.17,223.92 423.70,222.90 422.23,223.92 422.75,222.21 421.32,221.13 423.11,221.09" fill="#1a8a1a" stroke="#1a8a1a" stroke-width="0.4"/>
<text x="426.7" y="220.0" font-family='"DejaVu Sans", "Liberation Sans", sans-serif' font-size="6" fill="#333">B</text>
<polygon points="475.20,251.00 475.79,252.69 477.58,252.73 476.15,253.81 476.67,255.52 475.20,254.50 473.73,255.52 474.25,253.81 472.82,252.73 474.61,252.69" fill="#1a8a1a" stroke="#1a8a1a" stroke-width="0.4"/>
<text x="478.2" y="251.6" font-family='"DejaVu Sans", "Liberation Sans", sans-serif' font-size="6" fill="#333">C</text>
<polygon points="506.90,292.60 507.49,294.29 509.28,294.33 507.85,295.41 508.37,297.12 506.90,296.10 505.43,297.12 505.95,295.41 504.52,294.33 506.31,294.29" fill="#1a8a1a" stroke="#1a8a1a" stroke-width="0.4"/>
<text x="509.9" y="293.2" font-family='"DejaVu Sans", "Liberation Sans", sans-serif' font-size="6" fill="#333">D</text>
<polygon points="342.3,186.8 347.4,177.4 367.1,184.4 371.3,189.7 362.2,193.3" fill="none" stroke="#1f77b4" stroke-width="0.95" stroke-linejoin="round"/>
<rect x="463.4" y="173" width="79" height="33.6" rx="1" fill="#fff" fill-opacity="0.8" stroke="#ccc" stroke-width="0.5"/>
<line x1="466" y1="179.5" x2="479.4" y2="179.5" stroke="#777" stroke-width="0.7"/>
<line x1="466" y1="189.9" x2="479.4" y2="189.9" stroke="#ff1a1a" stroke-width="1.35" stroke-dasharray="3.8 1.5"/>
<line x1="466" y1="199.8" x2="479.4" y2="199.8" stroke="#1f1fff" stroke-width="1.35" stroke-dasharray="3.8 1.5"/>
<text x="486.3" y="181.9" font-family='"Liberation Serif", serif' font-weight="bold" stroke="#111" stroke-width="0.22" font-size="7.2" fill="#111">Actual trajectory</text>
<text x="486.3" y="192.2" font-family='"Liberation Serif", serif' font-weight="bold" stroke="#111" stroke-width="0.22" font-size="7.2" fill="#111">Hybrid predicted</text>
<text x="486.3" y="202.1" font-family='"Liberation Serif", serif' font-weight="bold" stroke="#111" stroke-width="0.22" font-size="7.2" fill="#111">Model predicted</text>
<rect x="332.5" y="169.7" width="212.70000000000005" height="159.40000000000003" fill="none" stroke="#4a4a4a" stroke-width="0.8"/>
<text transform="translate(309.3,249.8) rotate(-90)" text-anchor="middle" font-family='"Liberation Serif", serif' font-weight="bold" stroke="#111" stroke-width="0.22" font-size="7.3" fill="#111">y [m]</text>
<text x="439.5" y="347.3" text-anchor="middle" font-family='"Liberation Serif", serif' font-weight="bold" stroke="#111" stroke-width="0.22" font-size="7.1" fill="#111">x [m]</text>
</g>
</svg>
</body></html>
